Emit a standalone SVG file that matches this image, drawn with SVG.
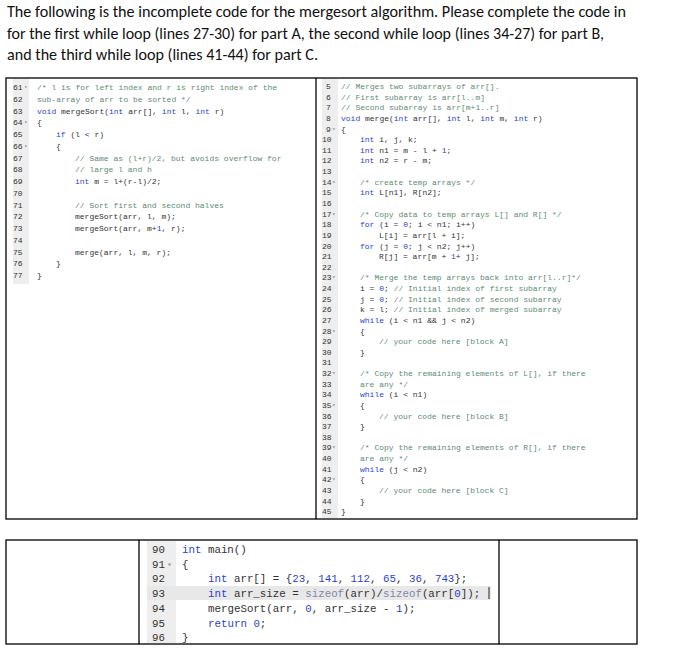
<svg xmlns="http://www.w3.org/2000/svg" width="673" height="665" viewBox="0 0 673 665" xml:space="preserve">
<style>
.h{font-family:Carlito,"Liberation Sans",sans-serif;font-size:15.5px;fill:#111}
.c{font-family:"Liberation Mono","DejaVu Sans Mono",monospace;font-size:8px;fill:#333}
.b{font-family:"Liberation Mono","DejaVu Sans Mono",monospace;font-size:10.8px;fill:#333}
.k{fill:#2b3fd0}
.g{fill:#5e8c72}
.s{fill:#7d8aa6}
.f{fill:#999;font-size:6px}
.ln{stroke:#000;stroke-width:1.3;fill:none}
</style>
<rect width="673" height="665" fill="#fff"/>
<g id="heading">
<text class="h" x="7" y="17" textLength="619" lengthAdjust="spacingAndGlyphs">The following is the incomplete code for the mergesort algorithm.  Please complete the code in</text>
<text class="h" x="7" y="39" textLength="597" lengthAdjust="spacingAndGlyphs">for the first while loop (lines 27-30) for part A, the second while loop (lines 34-27) for part B,</text>
<text class="h" x="7" y="60" textLength="311" lengthAdjust="spacingAndGlyphs">and the third while loop (lines 41-44) for part C.</text>
</g>
<g id="tables">
<rect class="ln" x="6" y="78" width="631" height="441"/>
<line class="ln" x1="316" y1="78" x2="316" y2="519"/>
<rect class="ln" x="6" y="540" width="631" height="104"/>
<line class="ln" x1="139" y1="540" x2="139" y2="644"/>
<line class="ln" x1="499" y1="540" x2="499" y2="644"/>
</g>
<g id="left-code">
<rect x="13" y="79" width="293" height="205" fill="#fff"/>
<rect x="13" y="79" width="16" height="205" fill="#eeeeee"/>
<g class="c">
<text x="13" y="90">61</text><text x="24" y="89" class="f">▾</text><text x="37" y="90" class="g">/* l is for left index and r is right index of the</text>
<text x="13" y="101.75">62</text><text x="37" y="101.75" class="g">sub-array of arr to be sorted */</text>
<text x="13" y="113.5">63</text><text x="37" y="113.5"><tspan class="k">void</tspan> mergeSort(<tspan class="k">int</tspan> arr[], <tspan class="k">int</tspan> l, <tspan class="k">int</tspan> r)</text>
<text x="13" y="125.25">64</text><text x="24" y="124.25" class="f">▾</text><text x="37" y="125.25">{</text>
<text x="13" y="137">65</text><text x="56" y="137"><tspan class="k">if</tspan> (l &lt; r)</text>
<text x="13" y="148.75">66</text><text x="24" y="147.75" class="f">▾</text><text x="56" y="148.75">{</text>
<text x="13" y="160.5">67</text><text x="75" y="160.5" class="g">// Same as (l+r)/2, but avoids overflow for</text>
<text x="13" y="172.25">68</text><text x="75" y="172.25" class="g">// large l and h</text>
<text x="13" y="184">69</text><text x="75" y="184"><tspan class="k">int</tspan> m = l+(r-l)/2;</text>
<text x="13" y="195.75">70</text>
<text x="13" y="207.5">71</text><text x="75" y="207.5" class="g">// Sort first and second halves</text>
<text x="13" y="219.25">72</text><text x="75" y="219.25">mergeSort(arr, l, m);</text>
<text x="13" y="231">73</text><text x="75" y="231">mergeSort(arr, m+<tspan class="k">1</tspan>, r);</text>
<text x="13" y="242.75">74</text>
<text x="13" y="254.5">75</text><text x="75" y="254.5">merge(arr, l, m, r);</text>
<text x="13" y="266.25">76</text><text x="56" y="266.25">}</text>
<text x="13" y="278">77</text><text x="37" y="278">}</text>
</g>
</g>
<g id="right-code">
<rect x="322" y="79" width="277" height="439" fill="#fff"/>
<rect x="322" y="79" width="16" height="439" fill="#eeeeee"/>
<g class="c">
<text x="326" y="89">5</text><text x="341" y="89" class="g">// Merges two subarrays of arr[].</text>
<text x="326" y="99.6">6</text><text x="341" y="99.6" class="g">// First subarray is arr[l..m]</text>
<text x="326" y="110.3">7</text><text x="341" y="110.3" class="g">// Second subarray is arr[m+1..r]</text>
<text x="326" y="120.9">8</text><text x="341" y="120.9"><tspan class="k">void</tspan> merge(<tspan class="k">int</tspan> arr[], <tspan class="k">int</tspan> l, <tspan class="k">int</tspan> m, <tspan class="k">int</tspan> r)</text>
<text x="326" y="131.5">9</text><text x="332" y="130.5" class="f">▾</text><text x="341" y="131.5">{</text>
<text x="322" y="142.2">10</text><text x="360" y="142.2"><tspan class="k">int</tspan> i, j, k;</text>
<text x="322" y="152.8">11</text><text x="360" y="152.8"><tspan class="k">int</tspan> n1 = m - l + <tspan class="k">1</tspan>;</text>
<text x="322" y="163.4">12</text><text x="360" y="163.4"><tspan class="k">int</tspan> n2 = r - m;</text>
<text x="322" y="174">13</text>
<text x="322" y="184.7">14</text><text x="332" y="183.7" class="f">▾</text><text x="360" y="184.7" class="g">/* create temp arrays */</text>
<text x="322" y="195.3">15</text><text x="360" y="195.3"><tspan class="k">int</tspan> L[n1], R[n2];</text>
<text x="322" y="205.9">16</text>
<text x="322" y="216.6">17</text><text x="332" y="215.6" class="f">▾</text><text x="360" y="216.6" class="g">/* Copy data to temp arrays L[] and R[] */</text>
<text x="322" y="227.2">18</text><text x="360" y="227.2"><tspan class="k">for</tspan> (i = <tspan class="k">0</tspan>; i &lt; n1; i++)</text>
<text x="322" y="237.8">19</text><text x="379" y="237.8">L[i] = arr[l + i];</text>
<text x="322" y="248.5">20</text><text x="360" y="248.5"><tspan class="k">for</tspan> (j = <tspan class="k">0</tspan>; j &lt; n2; j++)</text>
<text x="322" y="259.1">21</text><text x="379" y="259.1">R[j] = arr[m + <tspan class="k">1</tspan>+ j];</text>
<text x="322" y="269.7">22</text>
<text x="322" y="280.4">23</text><text x="332" y="279.4" class="f">▾</text><text x="360" y="280.4" class="g">/* Merge the temp arrays back into arr[l..r]*/</text>
<text x="322" y="291">24</text><text x="360" y="291">i = <tspan class="k">0</tspan>; <tspan class="g">// Initial index of first subarray</tspan></text>
<text x="322" y="301.6">25</text><text x="360" y="301.6">j = <tspan class="k">0</tspan>; <tspan class="g">// Initial index of second subarray</tspan></text>
<text x="322" y="312.2">26</text><text x="360" y="312.2">k = l; <tspan class="g">// Initial index of merged subarray</tspan></text>
<text x="322" y="322.9">27</text><text x="360" y="322.9"><tspan class="k">while</tspan> (i &lt; n1 &amp;&amp; j &lt; n2)</text>
<text x="322" y="333.5">28</text><text x="332" y="332.5" class="f">▾</text><text x="360" y="333.5">{</text>
<text x="322" y="344.1">29</text><text x="379" y="344.1" class="g">// your code here [block A]</text>
<text x="322" y="354.8">30</text><text x="360" y="354.8">}</text>
<text x="322" y="365.4">31</text>
<text x="322" y="376">32</text><text x="332" y="375" class="f">▾</text><text x="360" y="376" class="g">/* Copy the remaining elements of L[], if there</text>
<text x="322" y="386.7">33</text><text x="360" y="386.7" class="g">are any */</text>
<text x="322" y="397.3">34</text><text x="360" y="397.3"><tspan class="k">while</tspan> (i &lt; n1)</text>
<text x="322" y="407.9">35</text><text x="332" y="406.9" class="f">▾</text><text x="360" y="407.9">{</text>
<text x="322" y="418.6">36</text><text x="379" y="418.6" class="g">// your code here [block B]</text>
<text x="322" y="429.2">37</text><text x="360" y="429.2">}</text>
<text x="322" y="439.8">38</text>
<text x="322" y="450.4">39</text><text x="332" y="449.4" class="f">▾</text><text x="360" y="450.4" class="g">/* Copy the remaining elements of R[], if there</text>
<text x="322" y="461.1">40</text><text x="360" y="461.1" class="g">are any */</text>
<text x="322" y="471.7">41</text><text x="360" y="471.7"><tspan class="k">while</tspan> (j &lt; n2)</text>
<text x="322" y="482.3">42</text><text x="332" y="481.3" class="f">▾</text><text x="360" y="482.3">{</text>
<text x="322" y="493">43</text><text x="379" y="493" class="g">// your code here [block C]</text>
<text x="322" y="503.6">44</text><text x="360" y="503.6">}</text>
<text x="322" y="514.2">45</text><text x="341" y="514.2">}</text>
</g>
</g>
<g id="main-code">
<rect x="147" y="541" width="344" height="102" fill="#fff"/>
<rect x="147" y="541" width="29" height="102" fill="#eeeeee"/>
<rect x="147" y="586" width="344" height="14" fill="#e8e8e8"/>
<g class="b">
<text x="152" y="553">90</text><text x="182" y="553"><tspan class="k">int</tspan> main()</text>
<text x="152" y="567.7">91</text><text x="167" y="566.7" class="f" style="font-size:8px">▾</text><text x="182" y="567.7">{</text>
<text x="152" y="582.4">92</text><text x="208" y="582.4"><tspan class="k">int</tspan> arr[] = {<tspan class="k">23</tspan>, <tspan class="k">141</tspan>, <tspan class="k">112</tspan>, <tspan class="k">65</tspan>, <tspan class="k">36</tspan>, <tspan class="k">743</tspan>};</text>
<text x="152" y="597.1">93</text><text x="208" y="597.1"><tspan class="k">int</tspan> arr_size = <tspan class="s">sizeof</tspan>(arr)/<tspan class="s">sizeof</tspan>(arr[<tspan class="k">0</tspan>]);</text>
<text x="152" y="611.8">94</text><text x="208" y="611.8">mergeSort(arr, <tspan class="k">0</tspan>, arr_size - <tspan class="k">1</tspan>);</text>
<text x="152" y="626.5">95</text><text x="208" y="626.5"><tspan class="k">return</tspan> <tspan class="k">0</tspan>;</text>
<text x="152" y="641.2">96</text><text x="182" y="641.2">}</text>
</g>
<line x1="489" y1="587" x2="489" y2="599" stroke="#222" stroke-width="1"/>
</g>
</svg>
